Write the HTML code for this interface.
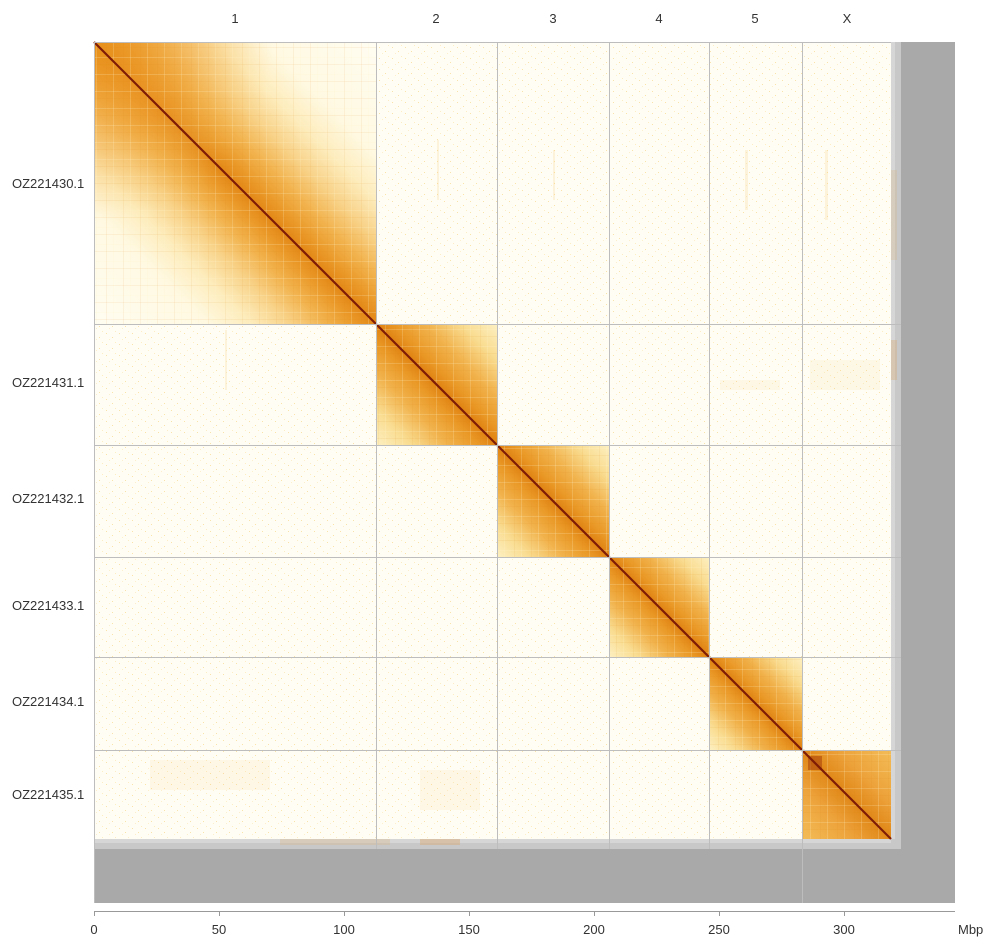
<!DOCTYPE html>
<html><head><meta charset="utf-8"><style>
html,body{margin:0;padding:0;background:#fff;}
svg{display:block;}
text{font-family:"Liberation Sans","DejaVu Sans",sans-serif;fill:#333;font-size:13px;}
</style></head><body>
<svg width="1000" height="950" viewBox="0 0 1000 950" xmlns="http://www.w3.org/2000/svg">
<defs>
<linearGradient id="gBig" x1="1" y1="0" x2="0" y2="1">
<stop offset="0" stop-color="#fffdf2"/>
<stop offset="0.2" stop-color="#fff9e2"/>
<stop offset="0.28" stop-color="#fdecbc"/>
<stop offset="0.35" stop-color="#f8d288"/>
<stop offset="0.41" stop-color="#f2b450"/>
<stop offset="0.46" stop-color="#eb9c2c"/>
<stop offset="0.5" stop-color="#e38816"/>
<stop offset="0.54" stop-color="#eb9c2c"/>
<stop offset="0.59" stop-color="#f2b450"/>
<stop offset="0.65" stop-color="#f8d288"/>
<stop offset="0.72" stop-color="#fdecbc"/>
<stop offset="0.8" stop-color="#fff9e2"/>
<stop offset="1" stop-color="#fffdf2"/>
</linearGradient>
<linearGradient id="gMid" x1="1" y1="0" x2="0" y2="1">
<stop offset="0" stop-color="#fdf0c2"/>
<stop offset="0.15" stop-color="#f9dc90"/>
<stop offset="0.3" stop-color="#f1b24c"/>
<stop offset="0.42" stop-color="#ea9a28"/>
<stop offset="0.5" stop-color="#e08313"/>
<stop offset="0.58" stop-color="#ea9a28"/>
<stop offset="0.7" stop-color="#f1b24c"/>
<stop offset="0.85" stop-color="#f9dc90"/>
<stop offset="1" stop-color="#fdf0c2"/>
</linearGradient>
<linearGradient id="gX" x1="1" y1="0" x2="0" y2="1">
<stop offset="0" stop-color="#f3bd58"/>
<stop offset="0.3" stop-color="#eda23a"/>
<stop offset="0.5" stop-color="#e08818"/>
<stop offset="0.7" stop-color="#eda23a"/>
<stop offset="1" stop-color="#f3bd58"/>
</linearGradient>
<radialGradient id="rTL" cx="0" cy="0" r="1">
<stop offset="0" stop-color="#e8911c" stop-opacity="0.85"/>
<stop offset="0.55" stop-color="#ee9f33" stop-opacity="0.4"/>
<stop offset="1" stop-color="#f5c46a" stop-opacity="0"/>
</radialGradient>
<pattern id="speck" width="13" height="11" patternUnits="userSpaceOnUse">
<rect x="2" y="3" width="1" height="1" fill="#f8d98a" opacity="0.7"/>
<rect x="8" y="7" width="1" height="1" fill="#f6d27a" opacity="0.6"/>
<rect x="11" y="1" width="1" height="1" fill="#fae3a4" opacity="0.6"/>
<rect x="5" y="9" width="1" height="1" fill="#fae3a4" opacity="0.5"/>
</pattern>
<pattern id="check" width="17" height="17" patternUnits="userSpaceOnUse">
<rect x="0" y="6" width="17" height="1" fill="#fff4cc" opacity="0.2"/>
<rect x="11" y="0" width="1" height="17" fill="#fff4cc" opacity="0.2"/>
<rect x="0" y="13" width="17" height="1" fill="#d87a10" opacity="0.08"/>
<rect x="4" y="0" width="1" height="17" fill="#d87a10" opacity="0.08"/>
</pattern>
</defs>

<!-- plot background gray -->
<rect x="94" y="42" width="861" height="861" fill="#a9a9a9"/>
<!-- light strips -->
<rect x="891" y="42" width="10" height="807" fill="#c8c8c8"/>
<rect x="891" y="42" width="4" height="797" fill="#d6d6d6"/>
<rect x="94" y="839" width="807" height="10" fill="#c8c8c8"/>
<rect x="94" y="839" width="797" height="4" fill="#d6d6d6"/>
<rect x="280" y="839" width="110" height="6" fill="#d9b98a" opacity="0.35"/>
<rect x="420" y="839" width="40" height="6" fill="#d9a870" opacity="0.45"/>
<rect x="891" y="170" width="6" height="90" fill="#d9b98a" opacity="0.3"/>
<rect x="891" y="340" width="6" height="40" fill="#d9a870" opacity="0.35"/>

<!-- data area -->
<rect x="94" y="42" width="797" height="797" fill="#fffdf4"/>
<rect x="94" y="42" width="797" height="797" fill="url(#speck)"/>

<!-- faint streaks in off-diagonal regions -->
<g fill="#f3c56a" opacity="0.18">
<rect x="437" y="140" width="2" height="60"/>
<rect x="553" y="150" width="2" height="50"/>
<rect x="745" y="150" width="3" height="60"/>
<rect x="825" y="150" width="3" height="70"/>
<rect x="225" y="330" width="2" height="60"/>
</g>
<g fill="#f3c56a" opacity="0.1">
<rect x="150" y="760" width="120" height="30"/>
<rect x="810" y="360" width="70" height="30"/>
<rect x="720" y="380" width="60" height="10"/>
<rect x="420" y="770" width="60" height="40"/>
</g>

<!-- diagonal blocks -->
<rect x="94" y="42" width="282" height="282" fill="url(#gBig)"/>
<rect x="94" y="42" width="180" height="180" fill="url(#rTL)"/>
<rect x="376" y="324" width="121" height="121" fill="url(#gMid)"/>
<rect x="497" y="445" width="112" height="112" fill="url(#gMid)"/>
<rect x="609" y="557" width="100" height="100" fill="url(#gMid)"/>
<rect x="709" y="657" width="93" height="93" fill="url(#gMid)"/>
<rect x="802" y="750" width="89" height="89" fill="url(#gX)"/>
<g fill="url(#check)">
<rect x="94" y="42" width="282" height="282"/>
<rect x="376" y="324" width="121" height="121"/>
<rect x="497" y="445" width="112" height="112"/>
<rect x="609" y="557" width="100" height="100"/>
<rect x="709" y="657" width="93" height="93"/>
<rect x="802" y="750" width="89" height="89"/>
</g>
<rect x="808" y="756" width="14" height="14" fill="#a8400a" opacity="0.55"/>

<!-- diagonal line -->
<line x1="94" y1="42" x2="891" y2="839" stroke="#7f1c05" stroke-width="2.2"/>

<!-- grid lines -->
<g stroke="#bdbdbd" stroke-width="1">
<line x1="94" y1="42.5" x2="891" y2="42.5"/>
<line x1="94.5" y1="42" x2="94.5" y2="903"/>
<line x1="376.5" y1="42" x2="376.5" y2="849"/>
<line x1="497.5" y1="42" x2="497.5" y2="849"/>
<line x1="609.5" y1="42" x2="609.5" y2="849"/>
<line x1="709.5" y1="42" x2="709.5" y2="849"/>
<line x1="802.5" y1="42" x2="802.5" y2="903"/>
<line x1="94" y1="324.5" x2="901" y2="324.5"/>
<line x1="94" y1="445.5" x2="901" y2="445.5"/>
<line x1="94" y1="557.5" x2="901" y2="557.5"/>
<line x1="94" y1="657.5" x2="901" y2="657.5"/>
<line x1="94" y1="750.5" x2="901" y2="750.5"/>
</g>

<!-- top labels -->
<g text-anchor="middle">
<text x="235" y="23">1</text>
<text x="436" y="23">2</text>
<text x="553" y="23">3</text>
<text x="659" y="23">4</text>
<text x="755" y="23">5</text>
<text x="847" y="23">X</text>
</g>
<!-- left labels -->
<g>
<text x="12" y="188">OZ221430.1</text>
<text x="12" y="387">OZ221431.1</text>
<text x="12" y="503">OZ221432.1</text>
<text x="12" y="610">OZ221433.1</text>
<text x="12" y="706">OZ221434.1</text>
<text x="12" y="799">OZ221435.1</text>
</g>

<!-- x axis -->
<line x1="94" y1="911.5" x2="955" y2="911.5" stroke="#999" stroke-width="1"/>
<g stroke="#999" stroke-width="1">
<line x1="94.5" y1="911" x2="94.5" y2="916"/>
<line x1="219.5" y1="911" x2="219.5" y2="916"/>
<line x1="344.5" y1="911" x2="344.5" y2="916"/>
<line x1="469.5" y1="911" x2="469.5" y2="916"/>
<line x1="594.5" y1="911" x2="594.5" y2="916"/>
<line x1="719.5" y1="911" x2="719.5" y2="916"/>
<line x1="844.5" y1="911" x2="844.5" y2="916"/>
</g>
<g text-anchor="middle">
<text x="94" y="934">0</text>
<text x="219" y="934">50</text>
<text x="344" y="934">100</text>
<text x="469" y="934">150</text>
<text x="594" y="934">200</text>
<text x="719" y="934">250</text>
<text x="844" y="934">300</text>
</g>
<text x="958" y="934">Mbp</text>
</svg>
</body></html>
